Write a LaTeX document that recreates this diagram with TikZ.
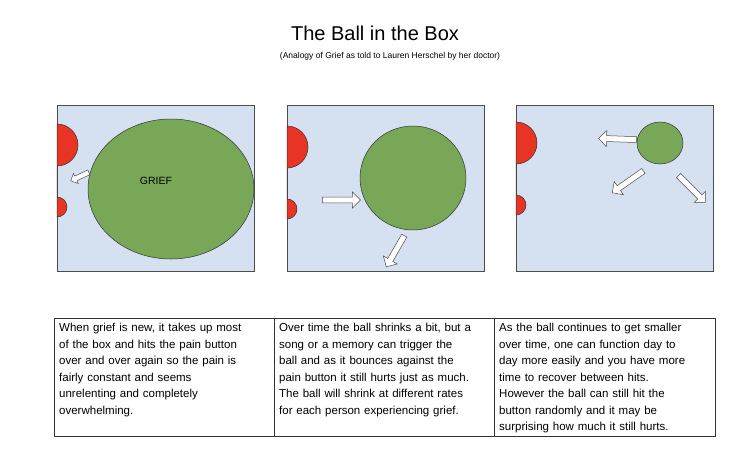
\documentclass[tikz,border=0pt]{standalone}
\usepackage{fontspec}
\setmainfont{Liberation Sans}
\usetikzlibrary{shapes.arrows,positioning}
\definecolor{boxblue}{RGB}{213,225,240}
\definecolor{ballgreen}{RGB}{120,167,88}
\definecolor{buttonred}{RGB}{232,52,36}
\tikzset{
    box/.style={draw=black!70, fill=boxblue, line width=0.6pt},
    ball/.style={draw=black!80, fill=ballgreen, line width=0.5pt},
    button/.style={draw=black!80, fill=buttonred, line width=0.5pt},
    bounce/.style={single arrow, draw=black!70, fill=white, line width=0.5pt,
        minimum height=#1, minimum width=16pt, single arrow head extend=3pt,
        inner sep=1.5pt},
    bounce/.default=38pt,
    cell/.style={anchor=north west, align=left, text width=212pt,
        font=\fontsize{11.5}{16.5}\selectfont, inner sep=0pt}
}
\begin{document}
\begin{tikzpicture}[x=1pt,y=-1pt]
  \useasboundingbox (0,0) rectangle (750,459);
  % title
  \node (title) at (375,33) {\fontsize{20}{24}\selectfont The Ball in the Box};
  \node (sub) at (390,56) {\fontsize{8.5}{10}\selectfont (Analogy of Grief as told to Lauren Herschel by her doctor)};
  % boxes
  \foreach \x/\n in {57/1,287/2,516/3}
    \draw[box] (\x,105) rectangle (\x+197,271);
  % pain buttons
  \foreach \x/\y in {57/187,287/189,516/185}
    \draw[button] (\x,\y-21) arc (90:-90:21) -- (\x,\y+10) arc (-90:90:10) -- cycle;
  % balls
  \draw[ball] (171,189) ellipse (83 and 70);
  \node (grief) at (156,181) {\fontsize{10.5}{12}\selectfont GRIEF};
  \draw[ball] (413,178) ellipse (53 and 52);
  \draw[ball] (660,143) ellipse (23 and 21);
  % arrows
  \node[bounce=20pt, minimum width=11pt, single arrow head extend=2pt, rotate=-155] (a1) at (81,176) {};
  \node[bounce] (a2) at (340,200) {};
  \node[bounce, rotate=-120, minimum height=36pt] (a3) at (396,250) {};
  \node[bounce, rotate=178] (a4) at (619,139) {};
  \node[bounce, rotate=-145] (a5) at (629,181) {};
  \node[bounce, rotate=-45] (a6) at (691,188) {};
  % table
  \draw[black!80, line width=0.6pt] (54,318) rectangle (715,436);
  \draw[black!80, line width=0.6pt] (274,318) -- (274,436) (494,318) -- (494,436);
  \node[cell] (c1) at (59,323) {When grief is new, it takes up most\\of the box and hits the pain button\\over and over again so the pain is\\fairly constant and seems\\unrelenting and completely\\overwhelming.};
  \node[cell] (c2) at (279,323) {Over time the ball shrinks a bit, but a\\song or a memory can trigger the\\ball and as it bounces against the\\pain button it still hurts just as much.\\The ball will shrink at different rates\\for each person experiencing grief.};
  \node[cell] (c3) at (499,323) {As the ball continues to get smaller\\over time, one can function day to\\day more easily and you have more\\time to recover between hits.\\However the ball can still hit the\\button randomly and it may be\\surprising how much it still hurts.};
\end{tikzpicture}
\end{document}
